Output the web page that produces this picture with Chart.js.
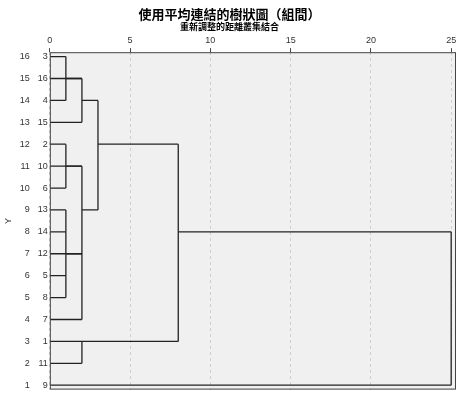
<!DOCTYPE html>
<html><head><meta charset="utf-8">
<script src="https://cdn.jsdelivr.net/npm/chart.js@4"></script>
<style>body{margin:0;background:#fff}</style>
</head><body><canvas id="c" width="474" height="401"></canvas>
<script>
// leaves from bottom (row 1) to top (row 16)
const caseLabels = ['9','11','1','7','8','5','12','14','13','6','10','2','15','4','16','3'];
const rowTicks = [1,2,3,4,5,6,7,8,9,10,11,12,13,14,15,16];
const xTicks = [0,5,10,15,20,25];
// how far each leaf line reaches, then vertical joins [x, yFrom, yTo] and links [x, y, xEnd]
const leafReach = [25,2,8,2,1,1,2,1,1,1,2,1,2,1,2,1];
const verticals = [[1,14,16],[2,13,15],[3,9,14],[1,10,12],[2,4,11],[1,5,9],[2,2,3],[8,3,12],[25,1,8]];
const links = [[1,15,2],[2,14,3],[3,12,8],[1,11,2],[1,7,2],[2,9,3],[8,8,25]];

const segs = [];
leafReach.forEach((r, i) => segs.push([{x:0,y:i+1},{x:r,y:i+1}]));
verticals.forEach(v => segs.push([{x:v[0],y:v[1]},{x:v[0],y:v[2]}]));
links.forEach(l => segs.push([{x:l[0],y:l[1]},{x:l[2],y:l[1]}]));

const bg = {
  id: 'bg',
  beforeDraw(chart) {
    const a = chart.chartArea, c = chart.ctx;
    c.save(); c.fillStyle = '#f0f0f0'; c.fillRect(a.left, a.top, a.width, a.height);
    c.restore();
  },
  afterDraw(chart) {
    const a = chart.chartArea, c = chart.ctx;
    c.save(); c.strokeStyle = '#444'; c.lineWidth = 1;
    c.strokeRect(a.left + 0.5, a.top + 0.5, a.width - 1, a.height - 1);
    c.restore();
  }
};

new Chart(document.getElementById('c'), {
  type: 'scatter',
  data: { datasets: segs.map(s => ({ data: s, showLine: true, borderColor: '#222', borderWidth: 1.3, pointRadius: 0 })) },
  options: {
    responsive: false, animation: false, devicePixelRatio: 1,
    layout: { padding: { right: 18, bottom: 0, left: 3 } },
    plugins: {
      legend: { display: false }, tooltip: { enabled: false },
      title: { display: true, text: '使用平均連結的樹狀圖（組間）', font: { family: 'Noto Sans CJK TC', size: 13, weight: 'bold' }, color: '#000', padding: { top: 6, bottom: 0 } },
      subtitle: { display: true, text: '重新調整的距離叢集結合', font: { family: 'Noto Sans CJK TC', size: 9, weight: 'bold' }, color: '#000', padding: { top: 0, bottom: 1 } }
    },
    scales: {
      x: { type: 'linear', position: 'top', min: 0, max: 25.3, afterBuildTicks: a => { a.ticks = xTicks.map(v => ({ value: v })); },
        ticks: { font: { size: 9 }, color: '#333', padding: 2, autoSkip: false },
        grid: { color: '#cfcfcf', tickColor: '#444', tickLength: 4 }, border: { display: false, dash: [3, 3] } },
      y: { type: 'linear', position: 'left', min: 0.8, max: 16.2, weight: 2,
        afterBuildTicks: a => { a.ticks = rowTicks.map(v => ({ value: v })); },
        title: { display: true, text: 'Y', font: { size: 9 }, color: '#333', padding: 0 },
        ticks: { font: { size: 9 }, color: '#333', padding: 6, autoSkip: false },
        grid: { display: false, drawTicks: false }, border: { display: false } },
      y2: { type: 'linear', position: 'left', min: 0.8, max: 16.2, weight: 1,
        afterBuildTicks: a => { a.ticks = rowTicks.map(v => ({ value: v })); },
        ticks: { font: { size: 9 }, color: '#333', padding: 2, autoSkip: false, callback: v => caseLabels[v - 1] },
        grid: { display: false, drawTicks: false }, border: { display: false } }
    }
  },
  plugins: [bg]
});
</script></body></html>
